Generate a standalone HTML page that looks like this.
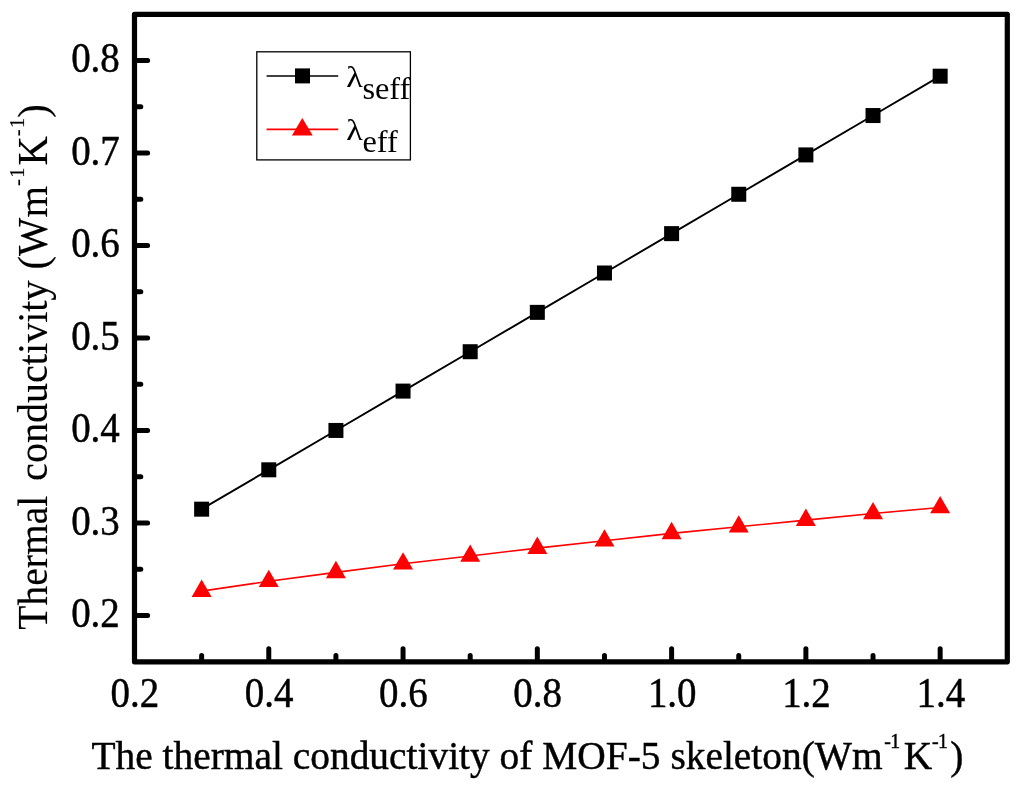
<!DOCTYPE html>
<html><head><meta charset="utf-8"><title>Thermal conductivity</title>
<style>
html,body{margin:0;padding:0;background:#fff;}
svg{display:block;}
text{font-family:"Liberation Serif","Times New Roman",serif;fill:#000;}
.b{stroke:#000;stroke-width:0.45px;}
.c{stroke:#000;stroke-width:0.15px;}
</style></head><body>
<svg width="1024" height="789" viewBox="0 0 1024 789">
<rect x="0" y="0" width="1024" height="789" fill="#fff"/>
<path d="M201.64 659.20V655.40M268.78 659.20V648.70M335.92 659.20V655.40M403.05 659.20V648.70M470.19 659.20V655.40M537.33 659.20V648.70M604.47 659.20V655.40M671.61 659.20V648.70M738.75 659.20V655.40M805.88 659.20V648.70M873.02 659.20V655.40M940.16 659.20V648.70M137.10 615.55H147.60M137.10 569.30H140.80M137.10 523.05H147.60M137.10 476.80H140.80M137.10 430.55H147.60M137.10 384.30H140.80M137.10 338.05H147.60M137.10 291.80H140.80M137.10 245.55H147.60M137.10 199.30H140.80M137.10 153.05H147.60M137.10 106.80H140.80M137.10 60.55H147.60" stroke="#000" stroke-width="5.0" stroke-linecap="round" fill="none"/>
<rect x="134.5" y="14.3" width="872.80" height="647.50" fill="none" stroke="#000" stroke-width="5.2" stroke-linejoin="round"/>
<text class="b" transform="translate(134.80,706.7) scale(0.945,1)" font-size="41.2" text-anchor="middle">0.2</text>
<text class="b" transform="translate(269.08,706.7) scale(0.945,1)" font-size="41.2" text-anchor="middle">0.4</text>
<text class="b" transform="translate(403.35,706.7) scale(0.945,1)" font-size="41.2" text-anchor="middle">0.6</text>
<text class="b" transform="translate(537.63,706.7) scale(0.945,1)" font-size="41.2" text-anchor="middle">0.8</text>
<text class="b" transform="translate(672.21,706.7) scale(0.945,1)" font-size="41.2" text-anchor="middle">1.0</text>
<text class="b" transform="translate(806.48,706.7) scale(0.945,1)" font-size="41.2" text-anchor="middle">1.2</text>
<text class="b" transform="translate(940.76,706.7) scale(0.945,1)" font-size="41.2" text-anchor="middle">1.4</text>
<text class="b" transform="translate(119.8,627.35) scale(0.945,1)" font-size="41.2" text-anchor="end">0.2</text>
<text class="b" transform="translate(119.8,534.85) scale(0.945,1)" font-size="41.2" text-anchor="end">0.3</text>
<text class="b" transform="translate(119.8,442.35) scale(0.945,1)" font-size="41.2" text-anchor="end">0.4</text>
<text class="b" transform="translate(119.8,349.85) scale(0.945,1)" font-size="41.2" text-anchor="end">0.5</text>
<text class="b" transform="translate(119.8,257.35) scale(0.945,1)" font-size="41.2" text-anchor="end">0.6</text>
<text class="b" transform="translate(119.8,164.85) scale(0.945,1)" font-size="41.2" text-anchor="end">0.7</text>
<text class="b" transform="translate(119.8,72.35) scale(0.945,1)" font-size="41.2" text-anchor="end">0.8</text>
<polyline points="201.64,509.17 268.78,469.81 335.92,430.45 403.05,391.09 470.19,351.72 537.33,312.36 604.47,273.00 671.61,233.63 738.75,194.27 805.88,154.91 873.02,115.55 940.16,76.18" fill="none" stroke="#000" stroke-width="1.9"/>
<rect x="194.14" y="501.67" width="15" height="15" fill="#000"/>
<rect x="261.28" y="462.31" width="15" height="15" fill="#000"/>
<rect x="328.42" y="422.95" width="15" height="15" fill="#000"/>
<rect x="395.55" y="383.59" width="15" height="15" fill="#000"/>
<rect x="462.69" y="344.22" width="15" height="15" fill="#000"/>
<rect x="529.83" y="304.86" width="15" height="15" fill="#000"/>
<rect x="596.97" y="265.50" width="15" height="15" fill="#000"/>
<rect x="664.11" y="226.13" width="15" height="15" fill="#000"/>
<rect x="731.25" y="186.77" width="15" height="15" fill="#000"/>
<rect x="798.38" y="147.41" width="15" height="15" fill="#000"/>
<rect x="865.52" y="108.05" width="15" height="15" fill="#000"/>
<rect x="932.66" y="68.68" width="15" height="15" fill="#000"/>
<polyline points="201.64,591.10 268.78,581.30 335.92,572.40 403.05,563.80 470.19,556.00 537.33,548.10 604.47,540.80 671.61,533.40 738.75,526.80 805.88,520.10 873.02,513.50 940.16,507.50" fill="none" stroke="#f00" stroke-width="1.6"/>
<polygon points="201.64,579.50 191.64,596.90 211.64,596.90" fill="#f00"/>
<polygon points="268.78,569.70 258.78,587.10 278.78,587.10" fill="#f00"/>
<polygon points="335.92,560.80 325.92,578.20 345.92,578.20" fill="#f00"/>
<polygon points="403.05,552.20 393.05,569.60 413.05,569.60" fill="#f00"/>
<polygon points="470.19,544.40 460.19,561.80 480.19,561.80" fill="#f00"/>
<polygon points="537.33,536.50 527.33,553.90 547.33,553.90" fill="#f00"/>
<polygon points="604.47,529.20 594.47,546.60 614.47,546.60" fill="#f00"/>
<polygon points="671.61,521.80 661.61,539.20 681.61,539.20" fill="#f00"/>
<polygon points="738.75,515.20 728.75,532.60 748.75,532.60" fill="#f00"/>
<polygon points="805.88,508.50 795.88,525.90 815.88,525.90" fill="#f00"/>
<polygon points="873.02,501.90 863.02,519.30 883.02,519.30" fill="#f00"/>
<polygon points="940.16,495.90 930.16,513.30 950.16,513.30" fill="#f00"/>
<rect x="256.8" y="51.8" width="153.6" height="108.1" fill="#fff" stroke="#000" stroke-width="1.3"/>
<line x1="266.6" y1="76" x2="338.2" y2="76" stroke="#000" stroke-width="1.7"/>
<rect x="295.0" y="68.4" width="15" height="15" fill="#000"/>
<line x1="266.6" y1="129.3" x2="338.2" y2="129.3" stroke="#f00" stroke-width="1.7"/>
<polygon points="302.3,117.9 291.9,135.5 312.7,135.5" fill="#f00"/>
<text transform="translate(346.2,87.2) scale(1.12,1)" font-size="30.5">λ</text>
<text transform="translate(362.4,98.6) scale(1.045,1)" font-size="31">seff</text>
<text transform="translate(346.2,140.4) scale(1.12,1)" font-size="30.5">λ</text>
<text transform="translate(362.4,151.8) scale(1.045,1)" font-size="31">eff</text>
<text class="b" transform="translate(91.4,768.9) scale(0.966,1)" font-size="40.8">The thermal conductivity of MOF-5 skeleton(Wm<tspan dy="-20.6" dx="1.5" font-size="20.5" letter-spacing="-0.56">-1</tspan><tspan dy="20.6" dx="4.3">K</tspan><tspan dy="-20.6" dx="-0.1" font-size="20.5" letter-spacing="-0.56">-1</tspan><tspan dy="20.6" dx="2.9">)</tspan></text>
<text class="c" transform="translate(47,629.7) rotate(-90) scale(0.953,1)" font-size="41.5">Thermal</text>
<text class="c" transform="translate(47,480.9) rotate(-90) scale(0.966,1)" font-size="41.5">conductivity</text>
<text class="c" transform="translate(47,269.4) rotate(-90) scale(0.978,1)" font-size="41.5">(Wm<tspan dy="-23" font-size="21" letter-spacing="1.5">-1</tspan><tspan dy="23" dx="0.5">K</tspan><tspan dy="-23" font-size="21" letter-spacing="1.5">-1</tspan><tspan dy="23" dx="-1.5">)</tspan></text>
</svg>
</body></html>
